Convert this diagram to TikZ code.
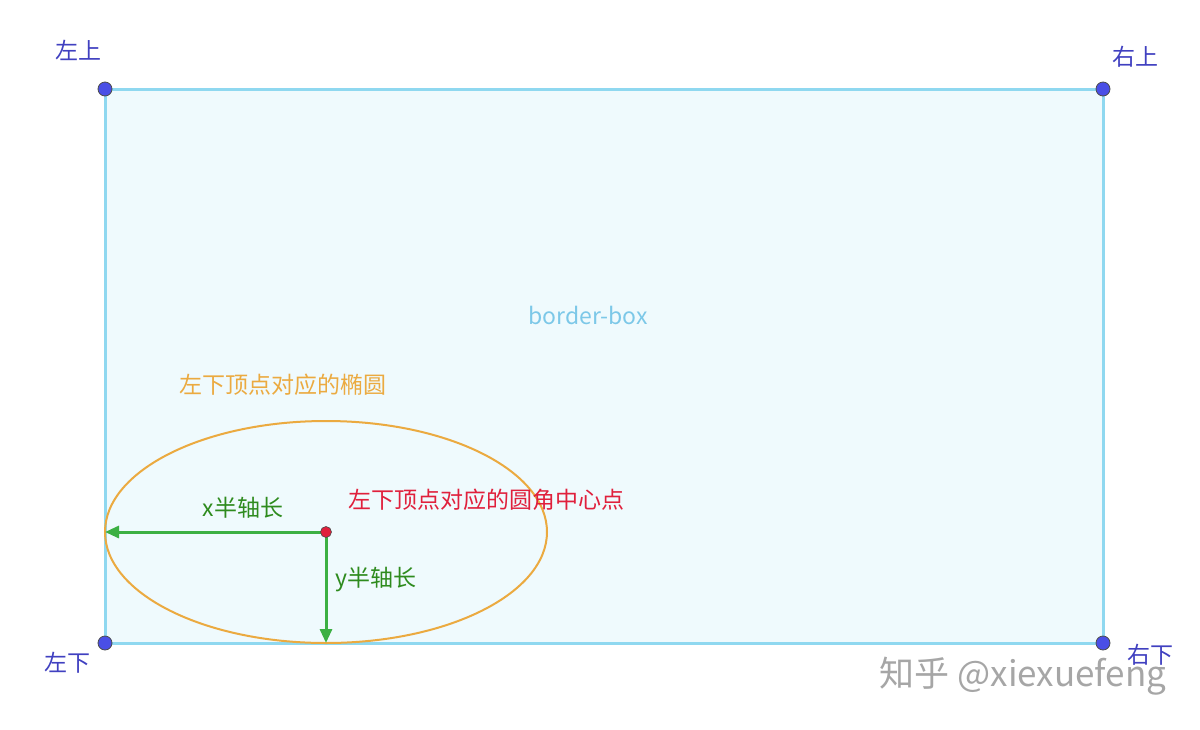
\documentclass[tikz,border=0pt]{standalone}
\usepackage{fontspec}
\setmainfont{Noto Sans CJK SC}
\usetikzlibrary{arrows.meta}
\definecolor{boxc}{HTML}{8FD8F0}
\definecolor{boxf}{HTML}{EFFAFD}
\definecolor{dotc}{HTML}{4A4FE6}
\definecolor{lbl}{HTML}{4040C0}
\definecolor{orng}{HTML}{EBAA40}
\definecolor{grn}{HTML}{3CB043}
\definecolor{txtg}{HTML}{2E8B1E}
\definecolor{redc}{HTML}{E0203C}
\definecolor{bb}{HTML}{7CC8E8}
\begin{document}
\begin{tikzpicture}[x=0.5pt,y=-0.5pt,
  corner/.style={circle,fill=dotc,draw=black!70,line width=0.4pt,inner sep=0pt,minimum size=7pt},
  lab/.style={font=\fontsize{11.5}{13}\selectfont,inner sep=0pt},
  arr/.style={grn,line width=1.5pt,-{Triangle[length=7pt,width=6pt]}}]
\useasboundingbox (0,0) rectangle (1200,729);
\draw[boxc,fill=boxf,line width=1.5pt] (105,89) rectangle (1103,643);
\node[corner] (tl) at (105,89) {};
\node[corner] (tr) at (1103,89) {};
\node[corner] (bl) at (105,643) {};
\node[corner] (br) at (1103,643) {};
\node[lab,lbl] (ltl) at (78,50) {左上};
\node[lab,lbl] (ltr) at (1135,57) {右上};
\node[lab,lbl] (lbl) at (67,663) {左下};
\node[lab,lbl] (lbr) at (1150,655) {右下};
\node[lab,bb] (bbx) at (588,315) {border-box};
\draw[orng,line width=1pt] (326,532) ellipse [x radius=221,y radius=111];
\node[lab,orng] (el) at (283,385) {左下顶点对应的椭圆};
\coordinate (xe) at (105,532);
\coordinate (ye) at (326,643);
\draw[arr] (326,532) -- (xe);
\draw[arr] (326,532) -- (ye);
\node[circle,fill=redc,draw=black!70,line width=0.3pt,inner sep=0pt,minimum size=5.5pt] (c) at (326,532) {};
\node[lab,txtg] (xl) at (243,508) {x半轴长};
\node[lab,txtg] (yl) at (376,580) {y半轴长};
\node[lab,redc] (cl) at (486,500) {左下顶点对应的圆角中心点};
\node[font=\fontsize{17.5}{19}\selectfont,gray!70,inner sep=0pt] (wm) at (1023,676) {知乎 @xiexuefeng};
\end{tikzpicture}
\end{document}
